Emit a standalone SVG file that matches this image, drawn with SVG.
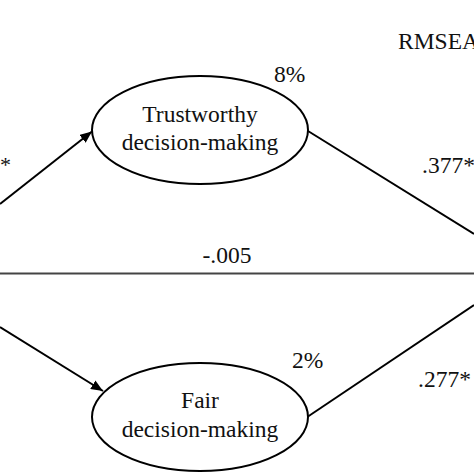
<svg xmlns="http://www.w3.org/2000/svg" width="474" height="474" viewBox="0 0 474 474">
<defs>
<marker id="ah" viewBox="0 0 12 10" refX="12" refY="5" markerWidth="12" markerHeight="10" markerUnits="userSpaceOnUse" orient="auto">
<path d="M0,0 L12,5 L0,10 Z" fill="#000"/>
</marker>
</defs>
<style>
text{font-family:"Liberation Serif","Times New Roman",serif;font-size:23.5px;fill:#111}
.n{text-anchor:middle}
.e{fill:#fff;stroke:#000;stroke-width:2}
.c{fill:none;stroke:#000;stroke-width:2}
</style>
<rect width="474" height="474" fill="#fff"/>
<text x="398" y="49">RMSEA</text>
<g id="connectors">
<line class="c" x1="0" y1="204" x2="92" y2="131.5" marker-end="url(#ah)"/>
<line class="c" x1="0" y1="327" x2="103" y2="391" marker-end="url(#ah)"/>
<line class="c" x1="308" y1="131" x2="474" y2="234"/>
<line class="c" x1="308" y1="416.5" x2="474" y2="305"/>
<line x1="0" y1="273.5" x2="474" y2="273.5" stroke="#444" stroke-width="2.2"/>
<text x="0" y="172" style="font-size:22px">*</text>
<text x="227" y="263" class="n">-.005</text>
<text x="422" y="173">.377*</text>
<text x="418" y="387">.277*</text>
</g>
<g id="trustworthy">
<ellipse class="e" cx="200" cy="130" rx="108" ry="54"/>
<text x="200" y="122" class="n">Trustworthy</text>
<text x="200" y="150" class="n">decision-making</text>
<text x="274" y="82">8%</text>
</g>
<g id="fair">
<ellipse class="e" cx="200" cy="417" rx="108" ry="54"/>
<text x="200" y="408" class="n">Fair</text>
<text x="200" y="437" class="n">decision-making</text>
<text x="292" y="368">2%</text>
</g>
</svg>
